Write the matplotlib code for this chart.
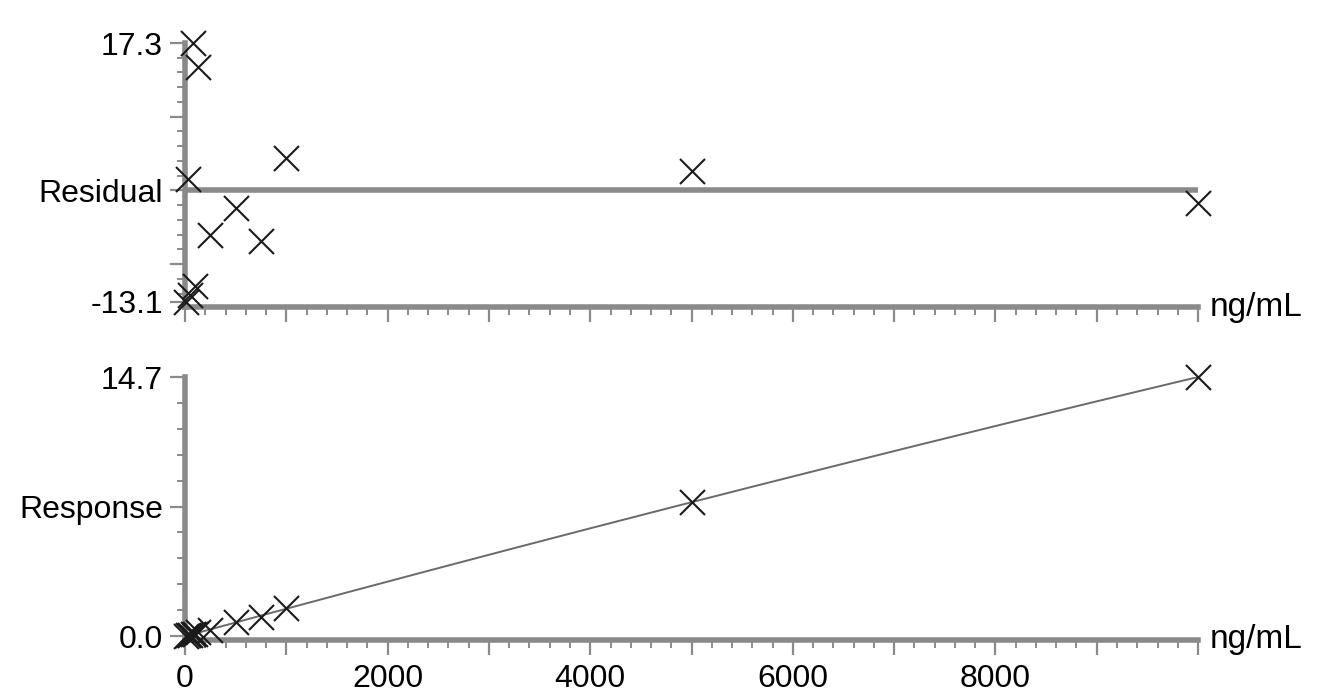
import matplotlib
matplotlib.use("Agg")
import matplotlib.pyplot as plt
import numpy as np
from matplotlib.ticker import MultipleLocator, FuncFormatter

plt.rcParams['font.family'] = ['Liberation Sans', 'DejaVu Sans']

# calibration standards (ng/mL)
conc = [10, 25, 50, 75, 100, 125, 250, 500, 750, 1000, 5000, 10000]
residual = [-13.1, 1.3, -12.3, 17.3, -11.2, 14.5, -5.2, -2.1, -6.0, 3.8, 2.3, -1.5]
response = [0.01, 0.04, 0.07, 0.13, 0.13, 0.21, 0.35, 0.80, 1.08, 1.60, 7.60, 14.70]

res_ticks = [-13.1, -8.65, 0.0, 8.65, 17.3]
res_labels = ['-13.1', '', 'Residual', '', '17.3']
resp_ticks = [0.0, 7.35, 14.7]
resp_labels = ['0.0', 'Response', '14.7']
x_labels = [0, 2000, 4000, 6000, 8000]

axis_grey = '#8a8a8a'

fig = plt.figure(figsize=(13.2, 6.96), dpi=100)
ax1 = fig.add_axes([0.1402, 0.5589, 0.7674, 0.3793])
ax2 = fig.add_axes([0.1402, 0.0805, 0.7674, 0.3778])


def style(ax):
    for s in ['top', 'right']:
        ax.spines[s].set_visible(False)
    for s in ['left', 'bottom']:
        ax.spines[s].set_color(axis_grey)
        ax.spines[s].set_linewidth(4)
    ax.set_xlim(0, 10000)
    ax.xaxis.set_major_locator(MultipleLocator(1000))
    ax.xaxis.set_minor_locator(MultipleLocator(200))
    ax.tick_params(which='major', direction='out', length=11, width=1.6,
                   color=axis_grey, pad=5)
    ax.tick_params(which='minor', direction='out', length=6, width=1.4,
                   color=axis_grey)
    ax.tick_params(axis='y', labelsize=23)
    ax.tick_params(axis='x', labelsize=23, pad=6)
    ax.text(1.012, 0, 'ng/mL', transform=ax.transAxes, fontsize=24,
            va='center', ha='left')
    ax.patch.set_visible(False)


# residual plot
style(ax1)
ax1.set_ylim(-13.69, 17.3)
ax1.axhline(0, color=axis_grey, lw=4, zorder=1)
ax1.set_yticks(res_ticks)
ax1.set_yticklabels(res_labels)
ax1.yaxis.set_minor_locator(MultipleLocator(1.73))
ax1.set_xticklabels([])
ax1.plot(conc, residual, ls='none', marker='x', ms=18, mew=1.5,
         color='#1a1a1a', clip_on=False, zorder=3)

# response plot
style(ax2)
ax2.set_ylim(-0.22, 14.7)
ax2.set_yticks(resp_ticks)
ax2.set_yticklabels(resp_labels)
ax2.yaxis.set_minor_locator(MultipleLocator(1.47))
ax2.xaxis.set_major_formatter(
    FuncFormatter(lambda v, p: f'{int(v)}' if int(v) in x_labels else ''))
coef = np.polyfit(conc, response, 2)
xf = np.linspace(0, 10000, 200)
ax2.plot(xf, np.polyval(coef, xf), color='#6a6a6a', lw=1.4, zorder=2)
ax2.plot(conc, response, ls='none', marker='x', ms=18, mew=1.5,
         color='#1a1a1a', clip_on=False, zorder=3)

fig.savefig('out.png', dpi=100)
